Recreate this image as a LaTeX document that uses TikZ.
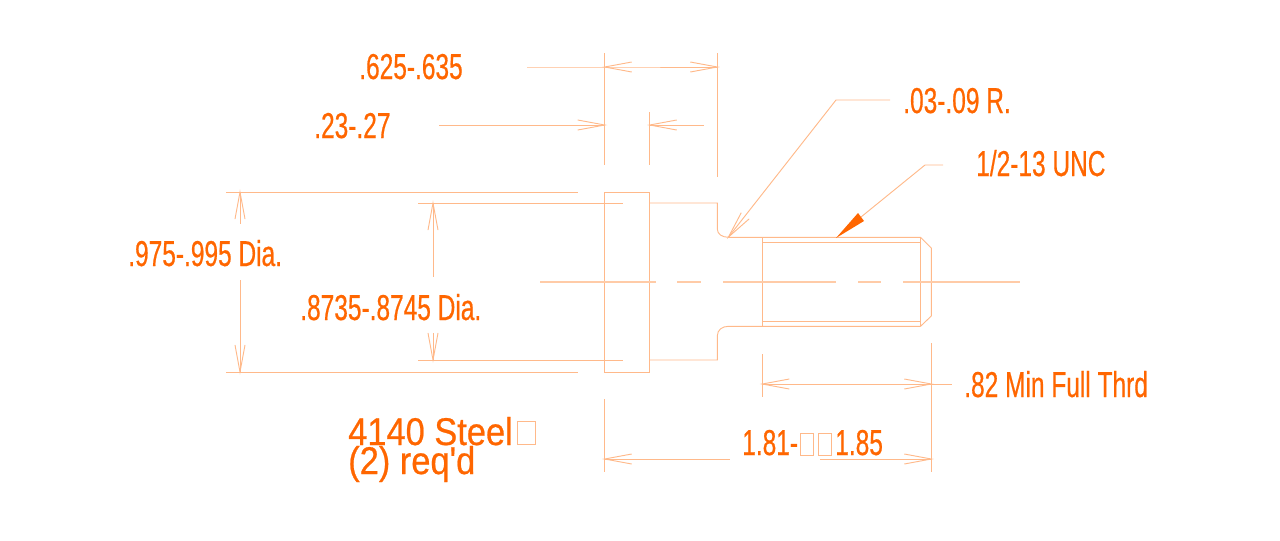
\documentclass[tikz,border=0pt]{standalone}
\usepackage{fontspec}
\setmainfont{Liberation Sans}
\newfontfamily\dimfont[FakeStretch=0.68,FakeBold=0.5]{Liberation Sans}
\newfontfamily\widefont[FakeStretch=0.89,FakeBold=0.6]{Liberation Sans}
\definecolor{ink}{RGB}{255,102,0}
\definecolor{thin}{RGB}{255,185,138}
\tikzset{
  lin/.style={draw=thin,line width=0.7pt},
  cen/.style={draw=thin!75!white,line width=1pt},
  head/.style={draw=thin,line width=0.7pt},
  dimlabel/.style={text=ink,font=\dimfont\fontsize{27}{27}\selectfont,inner sep=0pt,anchor=base west},
  biglabel/.style={text=ink,font=\widefont\fontsize{29}{29}\selectfont,inner sep=0pt,anchor=base west},
  tofu/.style={draw=thin,line width=0.7pt},
}
\newcommand{\openhead}[2]{\draw[head] ($(#1)+(#2+10.5:27.5)$) -- (#1) -- ($(#1)+(#2-10.5:27.5)$);}
\usetikzlibrary{calc}
\begin{document}
\begin{tikzpicture}[x=0.75pt,y=-0.75pt]
\useasboundingbox (0,0) rectangle (1280,540);
\coordinate (t1) at (604.7,67); \coordinate (t2) at (717.3,67);
\coordinate (s1) at (604.7,125); \coordinate (s2) at (649.7,125);
\coordinate (r1) at (728.5,237);
\coordinate (d1a) at (240,192); \coordinate (d1b) at (240,372);
\coordinate (d2a) at (433,203); \coordinate (d2b) at (433,360);
\coordinate (e1) at (762.3,384); \coordinate (e2) at (931.3,384);
\coordinate (f1) at (604.7,459); \coordinate (f2) at (931.3,459);
% body
\draw[lin] (604.7,192) rectangle (649.7,372);
\draw[lin] (649.7,203) -- (717.3,203) -- (717.3,229)
  .. controls (717.3,234) and (722,237.3) .. (728.5,237.3)
  -- (920.5,237.3) -- (931.3,248) -- (931.3,316) -- (920.5,326.3) -- (728.5,326.3)
  .. controls (722,326.3) and (717.3,330) .. (717.3,336) -- (717.3,360) -- (649.7,360);
\draw[lin] (762.3,237.3) -- (762.3,326.3);
\draw[lin] (920.5,237.3) -- (920.5,326.3);
\draw[lin] (762.3,242) -- (920.5,242);
\draw[lin] (762.3,321.3) -- (920.5,321.3);
% centre line
\foreach \a/\b in {540/656,677/701,723/836,858/881,903/1020}
  \draw[cen] (\a,282) -- (\b,282);
% extension lines
\draw[lin] (604.7,53) -- (604.7,165);
\draw[lin] (717.3,53) -- (717.3,177);
\draw[lin] (649.7,112) -- (649.7,165);
\draw[lin] (226,192) -- (578,192);
\draw[lin] (226,372) -- (578,372);
\draw[lin] (418,203) -- (623,203);
\draw[lin] (418,360) -- (623,360);
\draw[lin] (762.3,354) -- (762.3,397);
\draw[lin] (931.3,343) -- (931.3,472);
\draw[lin] (604.7,399) -- (604.7,472);
% dimension lines
\draw[lin] (527,67) -- (t1) -- (t2);
\openhead{t1}{0}\openhead{t2}{180}
\draw[lin] (439,125) -- (s1);
\openhead{s1}{180}
\draw[lin] (704,125) -- (s2);
\openhead{s2}{0}
\draw[lin] (d1a) -- (240,224);
\draw[lin] (240,280) -- (d1b);
\openhead{d1a}{90}\openhead{d1b}{-90}
\draw[lin] (d2a) -- (433,277);
\draw[lin] (433,333) -- (d2b);
\openhead{d2a}{90}\openhead{d2b}{-90}
\draw[lin] (e1) -- (e2) -- (952,384);
\openhead{e1}{0}\openhead{e2}{180}
\draw[lin] (f1) -- (730,459);
\draw[lin] (820,459) -- (f2);
\openhead{f1}{0}\openhead{f2}{180}
% leaders
\draw[lin] (890,100) -- (836,100) -- (r1);
\openhead{r1}{-51.8}
\draw[lin] (943,165) -- (925,165) -- (861,217);
\fill[ink] (836,238) -- (858,213) -- (864,221) -- cycle;
% labels
\node[dimlabel] (a) at (359,79) {.625-.635};
\node[dimlabel] (b) at (314,138) {.23-.27};
\node[dimlabel] (c) at (903,113) {.03-.09 R.};
\node[dimlabel] (d) at (976,176) {1/2-13 UNC};
\node[dimlabel] (e) at (128,266) {.975-.995 Dia.};
\node[dimlabel] (g) at (300,320) {.8735-.8745 Dia.};
\node[dimlabel] (h) at (964,397) {.82 Min Full Thrd};
\node[dimlabel] (i) at (742,455) {1.81-};
\node[dimlabel] (j) at (835,455) {1.85};
\node[biglabel] (k) at (348,445) {4140 Steel};
\node[biglabel] (l) at (348,474) {(2) req'd};
\draw[tofu] (517,421) rectangle (535,444);
\draw[tofu] (800,433) rectangle (813,455);
\draw[tofu] (818,433) rectangle (831,455);
\end{tikzpicture}
\end{document}
